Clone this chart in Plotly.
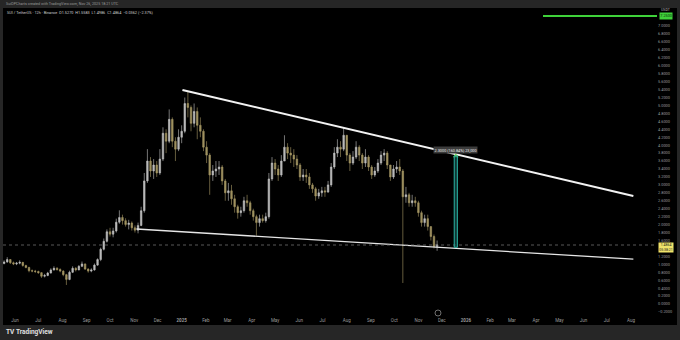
import plotly.graph_objects as go
import pandas as pd

# ---------------- data ----------------
candle_start = "2024-05-16"
candle_step_days = 4
first_open = 1.02
closes = [1.06, 1.12, 1.04, 1.01, 1.03, 1.05, 0.97, 0.92, 0.84, 0.83,
          0.82, 0.79, 0.70, 0.72, 0.78, 0.86, 0.90, 0.87, 0.83, 0.74,
          0.62, 0.80, 0.90, 0.86, 0.95, 1.01, 0.88, 0.83, 0.86, 0.98,
          1.12, 1.38, 1.58, 1.82, 1.76, 1.84, 2.06, 2.18, 2.10, 2.00,
          2.04, 1.92, 1.86, 1.98, 2.35, 3.10, 3.60, 3.35, 3.50, 3.30,
          3.65, 4.30, 4.10, 4.65, 4.10, 3.90, 4.20, 4.35, 5.05, 4.95,
          4.55, 4.85, 4.50, 4.35, 3.95, 3.75, 3.25, 3.35, 3.40, 3.45,
          3.10, 2.80, 2.85, 2.65, 2.45, 2.30, 2.35, 2.60, 2.55, 2.35,
          2.20, 2.05, 2.15, 2.10, 2.20, 3.15, 3.55, 3.40, 3.25, 3.60,
          3.95, 3.80, 3.75, 3.65, 3.50, 3.20, 3.25, 3.20, 3.00, 2.90,
          2.72, 2.80, 2.85, 2.82, 3.00, 3.45, 3.80, 3.95, 3.90, 4.25,
          3.75, 3.55, 3.70, 3.95, 3.75, 3.55, 3.70, 3.45, 3.25, 3.35,
          3.55, 3.75, 3.80, 3.50, 3.20, 3.40, 3.45, 3.35, 2.70, 2.75,
          2.55, 2.60, 2.55, 2.30, 2.05, 2.15, 1.95, 1.70, 1.45, 1.49]
highs = [1.10, 1.18, 1.13, 1.07, 1.06, 1.10, 1.06, 0.99, 0.94, 0.87,
         0.86, 0.84, 0.80, 0.76, 0.81, 0.90, 0.95, 0.93, 0.90, 0.85,
         0.76, 0.84, 0.95, 0.93, 0.98, 1.07, 1.02, 0.90, 0.90, 1.02,
         1.15, 1.42, 1.65, 1.88, 1.92, 1.92, 2.15, 2.36, 2.25, 2.16,
         2.12, 2.08, 1.98, 2.05, 2.45, 3.30, 3.90, 3.70, 3.65, 3.60,
         3.90, 4.45, 4.40, 4.90, 4.70, 4.20, 4.40, 4.50, 5.20, 5.35,
         5.00, 5.05, 4.95, 4.70, 4.40, 4.10, 3.80, 3.50, 3.60, 3.60,
         3.50, 3.15, 3.05, 3.00, 2.75, 2.50, 2.45, 2.70, 2.75, 2.60,
         2.40, 2.25, 2.25, 2.25, 2.30, 3.30, 3.70, 3.65, 3.50, 3.75,
         4.25, 4.05, 3.95, 3.90, 3.75, 3.55, 3.40, 3.40, 3.30, 3.05,
         2.95, 2.90, 2.95, 2.95, 3.10, 3.55, 3.95, 4.15, 4.10, 4.44,
         4.25, 3.80, 3.85, 4.10, 4.00, 3.80, 3.90, 3.75, 3.50, 3.45,
         3.65, 3.85, 3.90, 3.85, 3.50, 3.50, 3.60, 3.65, 3.40, 2.95,
         2.80, 2.75, 2.70, 2.60, 2.35, 2.25, 2.25, 1.95, 1.75, 1.60]
lows = [1.00, 1.04, 1.01, 0.98, 0.98, 1.00, 0.94, 0.90, 0.80, 0.80,
        0.78, 0.76, 0.66, 0.67, 0.70, 0.77, 0.84, 0.84, 0.80, 0.70,
        0.48, 0.60, 0.78, 0.82, 0.85, 0.93, 0.86, 0.79, 0.80, 0.84,
        0.96, 1.08, 1.35, 1.55, 1.70, 1.68, 1.80, 2.02, 2.00, 1.95,
        1.88, 1.85, 1.80, 1.78, 1.96, 2.30, 3.05, 3.20, 3.15, 3.20,
        3.25, 3.60, 3.80, 4.05, 3.95, 3.60, 3.85, 4.05, 4.30, 4.70,
        4.35, 4.45, 4.15, 4.20, 3.85, 3.55, 2.75, 3.10, 3.20, 3.25,
        3.00, 2.60, 2.60, 2.50, 2.30, 2.15, 2.20, 2.30, 2.45, 2.25,
        2.10, 1.72, 1.95, 2.05, 2.05, 2.15, 3.10, 3.25, 3.10, 3.20,
        3.60, 3.65, 3.55, 3.45, 3.40, 3.10, 3.10, 3.05, 2.90, 2.80,
        2.60, 2.65, 2.70, 2.70, 2.80, 2.95, 3.40, 3.70, 3.70, 3.85,
        3.60, 3.35, 3.50, 3.65, 3.60, 3.40, 3.45, 3.35, 3.15, 3.20,
        3.30, 3.50, 3.60, 3.40, 3.10, 3.15, 3.30, 3.25, 0.53, 2.55,
        2.45, 2.45, 2.45, 2.20, 1.95, 1.95, 1.85, 1.60, 1.40, 1.34]

last_price = 1.4864
last_countdown = "05:38:21"
alert_price = 7.25

upper_trend_dates = ["2025-01-02", "2026-08-04"]
upper_trend_prices = [5.39, 2.72]
lower_trend_dates = ["2024-11-04", "2026-08-04"]
lower_trend_prices = [1.89, 1.13]
alert_line_start = "2026-04-10"

measure_dates = ["2025-12-17", "2025-12-21"]
measure_prices = [1.43, 3.73]
measure_label = "2.3000 (160.84%) 23,000"

month_ticks = ["2024-06-01", "2024-07-01", "2024-08-01", "2024-09-01", "2024-10-01",
               "2024-11-01", "2024-12-01", "2025-01-01", "2025-02-01", "2025-03-01",
               "2025-04-01", "2025-05-01", "2025-06-01", "2025-07-01", "2025-08-01",
               "2025-09-01", "2025-10-01", "2025-11-01", "2025-12-01", "2026-01-01",
               "2026-02-01", "2026-03-01", "2026-04-01", "2026-05-01", "2026-06-01",
               "2026-07-01", "2026-08-01"]
month_labels = ["Jun", "Jul", "Aug", "Sep", "Oct", "Nov", "Dec", "<b>2025</b>", "Feb", "Mar",
                "Apr", "May", "Jun", "Jul", "Aug", "Sep", "Oct", "Nov", "Dec", "<b>2026</b>",
                "Feb", "Mar", "Apr", "May", "Jun", "Jul", "Aug"]
# the 1.4000 label sits behind the last-price tag in the reference
price_ticks = [-0.2, 0.0, 0.2, 0.4, 0.6, 0.8, 1.0, 1.2, 1.6, 1.8, 2.0, 2.2, 2.4,
               2.6, 2.8, 3.0, 3.2, 3.4, 3.6, 3.8, 4.0, 4.2, 4.4, 4.6, 4.8, 5.0, 5.2,
               5.4, 5.6, 5.8, 6.0, 6.2, 6.4, 6.6, 6.8, 7.0]
price_labels = ["−0.2000", "0.0000", "0.2000", "0.4000", "0.6000", "0.8000", "1.0000",
                "1.2000", "1.6000", "1.8000", "2.0000", "2.2000", "2.4000",
                "2.6000", "2.8000", "3.0000", "3.2000", "3.4000", "3.6000", "3.8000",
                "4.0000", "4.2000", "4.4000", "4.6000", "4.8000", "5.0000", "5.2000",
                "5.4000", "5.6000", "5.8000", "6.0000", "6.2000", "6.4000", "6.6000",
                "6.8000", "7.0000"]

x_range = ["2024-05-16 14:00", "2026-09-03 09:00"]
y_range = [-0.3011, 7.454]

# ---------------- layout helpers ----------------
W, H = 680, 340
PL, PR, PT, PB = 3, 657, 8, 316


def pxx(px):
    return (px - PL) / (PR - PL)


def pxy(py):
    return (PB - py) / (PB - PT)


starts = pd.date_range(candle_start, periods=len(closes), freq=f"{candle_step_days}D")
xs = starts + pd.Timedelta(days=candle_step_days / 2)
opens = [first_open] + closes[:-1]
hi = [max(h, o, c) for h, o, c in zip(highs, opens, closes)]
lo = [min(l, o, c) for l, o, c in zip(lows, opens, closes)]

fig = go.Figure()
fig.add_trace(go.Candlestick(
    x=xs, open=opens, high=hi, low=lo, close=closes,
    increasing=dict(line=dict(color="#c4c4c4", width=0.6), fillcolor="#b5b5b5"),
    decreasing=dict(line=dict(color="#a99b66", width=0.6), fillcolor="#9c8f5e"),
    whiskerwidth=0, hoverinfo="skip"))

# trend lines
fig.add_trace(go.Scatter(x=upper_trend_dates, y=upper_trend_prices, mode="lines",
                         line=dict(color="#f2f2f2", width=2), hoverinfo="skip"))
fig.add_trace(go.Scatter(x=lower_trend_dates, y=lower_trend_prices, mode="lines",
                         line=dict(color="#e6e6e6", width=1.3), hoverinfo="skip"))
# alert line (green)
fig.add_trace(go.Scatter(x=[alert_line_start, x_range[1]], y=[alert_price, alert_price],
                         mode="lines", line=dict(color="#3fd23a", width=2), hoverinfo="skip"))
# last price line
fig.add_trace(go.Scatter(x=x_range, y=[last_price, last_price], mode="lines",
                         line=dict(color="#6e6e6e", width=0.8, dash="dot"), hoverinfo="skip"))

shapes = []
# measuring tool
shapes.append(dict(type="rect", xref="x", yref="y",
                   x0=measure_dates[0], x1=measure_dates[1],
                   y0=measure_prices[0], y1=measure_prices[1],
                   line=dict(color="#2cb5a6", width=1), fillcolor="rgba(20,90,85,0.6)"))
mid_measure = pd.Timestamp(measure_dates[0]) + (pd.Timestamp(measure_dates[1]) - pd.Timestamp(measure_dates[0])) / 2
fig.add_trace(go.Scatter(x=[mid_measure], y=[measure_prices[1]], mode="markers",
                         marker=dict(symbol="triangle-up", size=5, color="#7ee04a"),
                         hoverinfo="skip"))

# frame bars
shapes.append(dict(type="rect", xref="paper", yref="paper", x0=pxx(0), x1=pxx(W),
                   y0=pxy(0), y1=pxy(8), line=dict(width=0), fillcolor="#262626", layer="above"))
shapes.append(dict(type="rect", xref="paper", yref="paper", x0=pxx(0), x1=pxx(W),
                   y0=pxy(325), y1=pxy(H), line=dict(width=0), fillcolor="#262626", layer="above"))
shapes.append(dict(type="rect", xref="paper", yref="paper", x0=pxx(0), x1=pxx(3),
                   y0=pxy(0), y1=pxy(H), line=dict(width=0), fillcolor="#262626", layer="above"))
shapes.append(dict(type="rect", xref="paper", yref="paper", x0=pxx(677), x1=pxx(W),
                   y0=pxy(0), y1=pxy(H), line=dict(width=0), fillcolor="#262626", layer="above"))
# scroll icon
shapes.append(dict(type="circle", xref="paper", yref="paper", x0=pxx(435), x1=pxx(441),
                   y0=pxy(316), y1=pxy(310), line=dict(color="#8a8a8a", width=0.8)))

annotations = []
font = "Roboto"
annotations.append(dict(xref="paper", yref="paper", x=pxx(4), y=pxy(4), xanchor="left",
                        yanchor="middle", showarrow=False,
                        text="SuiOPCharts created with TradingView.com, Nov 26, 2025 18:21 UTC",
                        font=dict(size=3.7, color="#9a9a9a", family=font)))
annotations.append(dict(xref="paper", yref="paper", x=pxx(5), y=pxy(12), xanchor="left",
                        yanchor="middle", showarrow=False,
                        text="SUI / TetherUS · 12h · Binance  O1.5270  H1.5583  L1.4986  C1.4864  −0.0362 (−2.37%)",
                        font=dict(size=3.8, color="#cfcfcf", family=font)))
annotations.append(dict(xref="paper", yref="paper", x=pxx(4), y=pxy(332), xanchor="left",
                        yanchor="middle", showarrow=False,
                        text="<b>TV</b> <b>TradingView</b>",
                        font=dict(size=6.5, color="#e0e0e0", family=font)))
annotations.append(dict(xref="paper", yref="paper", x=pxx(666), y=pxy(10.5), xanchor="center",
                        yanchor="middle", showarrow=False, text="USDT",
                        font=dict(size=3.6, color="#bdbdbd", family=font)))
annotations.append(dict(xref="paper", yref="y", x=pxx(659), y=alert_price, xanchor="left",
                        yanchor="middle", showarrow=False, text="7.2500",
                        bgcolor="#3fd23a", borderpad=0.3,
                        font=dict(size=3.8, color="#0b2a0b", family=font)))
annotations.append(dict(xref="paper", yref="paper", x=pxx(658), y=pxy(247), xanchor="left",
                        yanchor="middle", showarrow=False,
                        text=f"{last_price:.4f}<br>{last_countdown}",
                        bgcolor="#efe36a", borderpad=0.3,
                        font=dict(size=3.5, color="#1a1a1a", family=font)))
annotations.append(dict(xref="x", yref="y", x=mid_measure, y=3.88, xanchor="center",
                        yanchor="middle", showarrow=False, text=measure_label,
                        bgcolor="#3c3c3c", borderpad=0.6,
                        font=dict(size=3.8, color="#f0f0f0", family=font)))

fig.update_layout(
    width=W, height=H,
    margin=dict(l=PL, r=W - PR, t=PT, b=H - PB),
    paper_bgcolor="#000000", plot_bgcolor="#000000",
    showlegend=False,
    shapes=shapes, annotations=annotations,
    font=dict(family=font, color="#9a9a9a"),
    xaxis=dict(type="date", range=x_range, tickvals=month_ticks, ticktext=month_labels,
               tickfont=dict(size=4.5, color="#9a9a9a"), showgrid=False, zeroline=False,
               showline=False, ticks="", rangeslider=dict(visible=False), fixedrange=True),
    yaxis=dict(side="right", range=y_range, tickvals=price_ticks, ticktext=price_labels,
               tickfont=dict(size=3.9, color="#9a9a9a"), showgrid=False, zeroline=False,
               showline=False, ticks="", fixedrange=True),
)

fig.write_html("out.html")
